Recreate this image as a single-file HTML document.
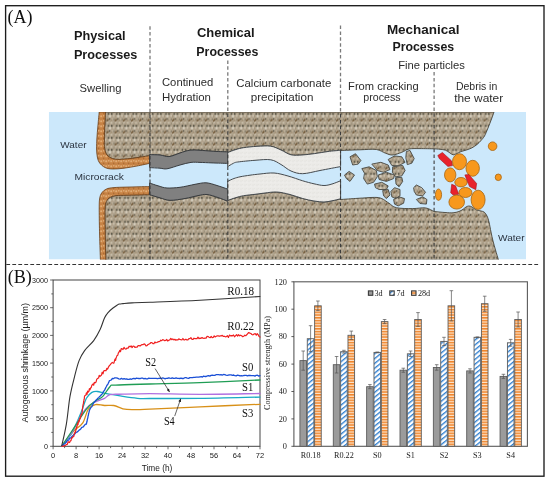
<!DOCTYPE html>
<html><head><meta charset="utf-8"><title>Figure</title>
<style>html,body{margin:0;padding:0;background:#fff}svg{display:block}</style>
</head><body>
<svg width="550" height="483" viewBox="0 0 550 483">
<defs>
<pattern id="conc" width="8.2" height="12.0" patternUnits="userSpaceOnUse" x="49" y="112.5">
<rect width="8.2" height="12.0" fill="#b0a28c"/>
<circle cx="3.6" cy="3.6" r="1.3" fill="#d6cfbf"/>
<circle cx="7.4" cy="3.2" r="1.0" fill="#cfc6b3"/>
<circle cx="0.9" cy="9.6" r="1.1" fill="#d2cab8"/>
<circle cx="5.0" cy="10.2" r="1.0" fill="#cbc2ae"/>
<circle cx="6.4" cy="6.6" r="0.9" fill="#c6bba6"/>
<circle cx="2.2" cy="1.3" r="0.9" fill="#393a2e"/>
<circle cx="5.3" cy="1.3" r="0.9" fill="#393a2e"/>
<circle cx="3.3" cy="6.4" r="0.75" fill="#49473a"/>
<circle cx="7.4" cy="6.9" r="0.6" fill="#55523f"/>
<circle cx="7.6" cy="11.0" r="0.5" fill="#6b6753"/>
<path d="M0.6 8.6 L1.7 7.0" stroke="#6e5636" stroke-width="1.5" stroke-linecap="round"/>
<path d="M4.6 8.4 L5.2 7.6" stroke="#8f7a58" stroke-width="0.9" stroke-linecap="round"/>
<circle cx="0.5" cy="4.0" r="0.6" fill="#94886f"/>
<circle cx="3.0" cy="11.2" r="0.55" fill="#8f846c"/>
<circle cx="6.9" cy="0.4" r="0.5" fill="#9a8f78"/>
</pattern>
<pattern id="swell" width="5" height="5" patternUnits="userSpaceOnUse">
<rect width="5" height="5" fill="#cb8748"/>
<circle cx="1.2" cy="1.3" r="1.0" fill="#e0ac76"/>
<circle cx="3.6" cy="3.4" r="0.9" fill="#ad6b33"/>
<circle cx="3.8" cy="0.8" r="0.7" fill="#e3b482"/>
<circle cx="1.0" cy="3.9" r="0.6" fill="#b9763d"/>
</pattern>
<pattern id="calc" width="4" height="4" patternUnits="userSpaceOnUse">
<rect width="4" height="4" fill="#ecebe8"/>
<circle cx="1" cy="1" r="0.45" fill="#d2d0ca"/>
<circle cx="3" cy="2.8" r="0.45" fill="#f8f8f6"/>
<circle cx="2.6" cy="0.6" r="0.35" fill="#dcdad4"/>
</pattern>
<pattern id="p7" width="3.75" height="3.75" patternUnits="userSpaceOnUse" patternTransform="rotate(-39)">
<rect width="3.75" height="3.75" fill="#fff"/>
<rect width="3.75" height="1.35" fill="#2f7fd0"/>
</pattern>
<pattern id="p28" width="7" height="2.75" patternUnits="userSpaceOnUse" y="446.3">
<rect width="7" height="2.75" fill="#fde9d4"/>
<rect y="0" width="7" height="1.55" fill="#f0842a"/>
</pattern>
<marker id="arr" viewBox="0 0 10 10" refX="9" refY="5" markerWidth="6" markerHeight="5" orient="auto"><path d="M0 1 L10 5 L0 9 z" fill="#222"/></marker>
<clipPath id="imgclip"><rect x="48.8" y="112" width="477.3" height="147.5"/></clipPath>
</defs>
<rect width="550" height="483" fill="#fff"/>
<rect x="5.6" y="5.7" width="538.4" height="470.5" fill="none" stroke="#1c1c1c" stroke-width="1.35"/>
<line x1="6.3" y1="264.5" x2="540" y2="264.5" stroke="#333" stroke-width="1.1" stroke-dasharray="3.8 2.2"/>
<text x="7.5" y="22.8" font-family='"Liberation Serif", serif' font-size="18" font-weight="normal" fill="#111" text-anchor="start" textLength="25" lengthAdjust="spacingAndGlyphs" >(A)</text>
<text x="7.7" y="283.3" font-family='"Liberation Serif", serif' font-size="18" font-weight="normal" fill="#111" text-anchor="start" textLength="24.2" lengthAdjust="spacingAndGlyphs" >(B)</text>
<text x="73.9" y="40.4" font-family='"Liberation Sans", sans-serif' font-size="13.3" font-weight="bold" fill="#1a1a1a" text-anchor="start" textLength="51.7" lengthAdjust="spacingAndGlyphs" >Physical</text>
<text x="73.9" y="59.2" font-family='"Liberation Sans", sans-serif' font-size="13.3" font-weight="bold" fill="#1a1a1a" text-anchor="start" textLength="63.5" lengthAdjust="spacingAndGlyphs" >Processes</text>
<text x="79.6" y="91.8" font-family='"Liberation Sans", sans-serif' font-size="10.8" font-weight="normal" fill="#2c2c2c" text-anchor="start" textLength="41.8" lengthAdjust="spacingAndGlyphs" >Swelling</text>
<text x="196.9" y="37" font-family='"Liberation Sans", sans-serif' font-size="13.3" font-weight="bold" fill="#1a1a1a" text-anchor="start" textLength="57.8" lengthAdjust="spacingAndGlyphs" >Chemical</text>
<text x="196.3" y="56" font-family='"Liberation Sans", sans-serif' font-size="13.3" font-weight="bold" fill="#1a1a1a" text-anchor="start" textLength="62.1" lengthAdjust="spacingAndGlyphs" >Processes</text>
<text x="162" y="85.9" font-family='"Liberation Sans", sans-serif' font-size="10.8" font-weight="normal" fill="#2c2c2c" text-anchor="start" textLength="51.3" lengthAdjust="spacingAndGlyphs" >Continued</text>
<text x="162" y="101.2" font-family='"Liberation Sans", sans-serif' font-size="10.8" font-weight="normal" fill="#2c2c2c" text-anchor="start" textLength="49" lengthAdjust="spacingAndGlyphs" >Hydration</text>
<text x="236.3" y="86.8" font-family='"Liberation Sans", sans-serif' font-size="10.8" font-weight="normal" fill="#2c2c2c" text-anchor="start" textLength="95" lengthAdjust="spacingAndGlyphs" >Calcium carbonate</text>
<text x="250.7" y="101" font-family='"Liberation Sans", sans-serif' font-size="10.8" font-weight="normal" fill="#2c2c2c" text-anchor="start" textLength="62.7" lengthAdjust="spacingAndGlyphs" >precipitation</text>
<text x="386.9" y="33.7" font-family='"Liberation Sans", sans-serif' font-size="13.3" font-weight="bold" fill="#1a1a1a" text-anchor="start" textLength="72.7" lengthAdjust="spacingAndGlyphs" >Mechanical</text>
<text x="392.4" y="51.4" font-family='"Liberation Sans", sans-serif' font-size="13.3" font-weight="bold" fill="#1a1a1a" text-anchor="start" textLength="61.8" lengthAdjust="spacingAndGlyphs" >Processes</text>
<text x="398.2" y="68.6" font-family='"Liberation Sans", sans-serif' font-size="10.5" font-weight="normal" fill="#2c2c2c" text-anchor="start" textLength="66.8" lengthAdjust="spacingAndGlyphs" >Fine particles</text>
<text x="348.1" y="90.3" font-family='"Liberation Sans", sans-serif' font-size="10.8" font-weight="normal" fill="#2c2c2c" text-anchor="start" textLength="70.5" lengthAdjust="spacingAndGlyphs" >From cracking</text>
<text x="363.3" y="101.4" font-family='"Liberation Sans", sans-serif' font-size="10.8" font-weight="normal" fill="#2c2c2c" text-anchor="start" textLength="37.3" lengthAdjust="spacingAndGlyphs" >process</text>
<text x="455.9" y="90.3" font-family='"Liberation Sans", sans-serif' font-size="10.8" font-weight="normal" fill="#2c2c2c" text-anchor="start" textLength="41.4" lengthAdjust="spacingAndGlyphs" >Debris in</text>
<text x="454.2" y="102" font-family='"Liberation Sans", sans-serif' font-size="10.8" font-weight="normal" fill="#2c2c2c" text-anchor="start" textLength="49" lengthAdjust="spacingAndGlyphs" >the water</text>
<g clip-path="url(#imgclip)">
<rect x="48.8" y="112" width="477.3" height="147.5" fill="#cce8fb"/>
<path d="M105.4 112.0 C105.3 114.2 105.0 120.3 104.8 125.0 C104.6 129.7 104.3 136.1 104.3 140.0 C104.3 143.9 104.1 146.0 104.6 148.5 C105.0 151.0 105.7 153.3 107.0 155.0 C108.3 156.7 110.5 157.9 112.5 158.6 C114.5 159.3 116.1 159.4 119.0 159.4 C121.9 159.4 126.5 159.0 130.0 158.6 C133.5 158.2 136.7 157.7 140.0 157.2 C143.3 156.7 148.0 156.0 149.6 155.8 L149.6 154.6 C151.3 154.7 156.8 154.7 160.0 155.0 C163.2 155.3 165.7 156.9 169.0 156.6 C172.3 156.3 176.5 154.1 180.0 153.0 C183.5 151.9 186.7 150.6 190.0 150.2 C193.3 149.8 196.3 150.1 200.0 150.3 C203.7 150.5 207.4 150.9 212.0 151.2 C216.6 151.5 225.1 151.8 227.7 151.9 L227.7 152.5 C229.1 152.0 233.3 150.3 236.0 149.5 C238.7 148.7 240.1 148.2 243.6 147.7 C247.1 147.2 252.5 146.6 257.0 146.3 C261.5 146.1 266.8 145.6 270.8 146.2 C274.8 146.8 277.6 148.6 281.0 150.0 C284.4 151.4 287.5 154.0 291.0 154.8 C294.5 155.6 298.1 155.2 302.0 155.0 C305.9 154.8 310.3 154.2 314.6 153.6 C318.9 153.0 323.7 152.1 328.0 151.5 C332.3 150.9 338.5 150.5 340.6 150.3 L340.6 150.5 C343.8 150.4 354.0 150.0 360.0 149.8 C366.0 149.6 372.1 148.9 376.4 149.5 C380.6 150.1 382.8 152.3 385.5 153.2 C388.2 154.1 390.0 155.2 392.7 155.0 C395.4 154.8 399.1 153.3 401.8 152.3 C404.5 151.3 406.0 149.6 409.0 149.0 C412.0 148.4 415.8 148.6 420.0 148.6 C424.2 148.6 431.7 148.8 434.0 148.8 L434.0 148.8 C435.0 148.9 438.1 149.1 440.0 149.3 C441.9 149.5 443.8 149.6 445.5 150.2 C447.2 150.8 448.7 152.2 450.0 153.0 C451.3 153.8 452.1 154.7 453.3 154.8 C454.5 154.9 455.7 154.0 457.0 153.5 C458.3 153.0 459.3 152.2 461.0 151.6 C462.7 151.0 465.2 150.4 467.0 149.8 C468.8 149.2 470.3 148.7 472.0 147.8 C473.7 146.9 475.5 145.7 477.0 144.5 C478.5 143.3 479.8 141.9 481.0 140.5 C482.2 139.1 483.3 138.1 484.5 136.0 C485.7 133.9 486.8 130.8 488.0 128.0 C489.2 125.2 490.5 121.7 491.5 119.0 C492.5 116.3 493.6 113.2 494.0 112.0 Z" fill="url(#conc)" stroke="#4a4438" stroke-width="0.9" stroke-linejoin="round"/>
<path d="M105.8 260.0 C105.7 255.8 105.3 242.3 105.2 235.0 C105.1 227.7 104.9 220.8 104.9 216.0 C104.9 211.2 104.9 208.6 105.2 206.0 C105.5 203.4 105.9 202.0 106.8 200.5 C107.7 199.0 109.0 197.8 110.5 197.0 C112.0 196.2 113.4 195.9 116.0 195.6 C118.6 195.3 122.3 195.3 126.0 195.2 C129.7 195.1 134.1 195.0 138.0 194.9 C141.9 194.8 147.7 194.7 149.6 194.7 L149.6 194.7 C151.3 195.2 156.6 196.9 160.0 197.8 C163.4 198.7 165.8 200.2 170.0 200.3 C174.2 200.4 180.3 199.3 185.0 198.5 C189.7 197.7 194.3 196.3 198.0 195.6 C201.7 194.9 203.7 194.2 207.0 194.5 C210.3 194.8 214.6 196.4 218.0 197.5 C221.4 198.6 226.1 200.6 227.7 201.2 L227.7 200.3 C229.1 199.9 233.3 198.4 236.0 197.6 C238.7 196.8 240.4 196.2 243.6 195.7 C246.8 195.1 251.4 194.8 255.0 194.3 C258.6 193.9 261.4 193.4 265.0 193.0 C268.6 192.6 272.5 191.8 276.7 192.0 C280.9 192.2 285.7 193.4 290.0 194.5 C294.3 195.6 298.7 197.4 302.7 198.5 C306.7 199.6 310.4 200.4 314.0 201.0 C317.6 201.6 321.0 202.0 324.0 202.0 C327.0 202.0 329.2 201.3 332.0 200.8 C334.8 200.3 339.2 199.1 340.6 198.8 L340.6 199.5 C343.5 199.3 352.4 198.7 358.0 198.3 C363.6 198.0 370.5 197.4 374.5 197.4 C378.5 197.4 379.4 197.6 381.8 198.6 C384.2 199.6 386.6 201.7 389.0 203.2 C391.4 204.7 392.4 206.8 396.4 207.7 C400.3 208.6 407.8 208.6 412.7 208.6 C417.6 208.6 421.9 207.4 425.5 207.9 C429.1 208.4 432.6 210.9 434.0 211.5 L434.0 211.5 C435.8 211.7 441.8 212.3 445.0 212.5 C448.2 212.7 450.7 213.0 453.0 212.8 C455.3 212.6 457.3 212.1 459.0 211.5 C460.7 210.9 462.2 209.8 463.4 209.0 C464.6 208.2 465.1 207.5 466.0 207.0 C466.9 206.5 467.8 206.0 468.8 206.0 C469.8 206.0 470.7 206.3 472.0 207.0 C473.3 207.7 475.1 209.2 476.6 209.9 C478.1 210.6 479.7 210.6 481.0 211.0 C482.3 211.4 483.3 211.4 484.3 212.2 C485.3 213.0 486.2 214.4 487.0 216.0 C487.8 217.6 488.3 219.3 489.0 222.0 C489.7 224.7 490.3 228.8 491.0 232.0 C491.7 235.2 492.2 238.0 493.0 241.0 C493.8 244.0 494.6 246.8 495.5 250.0 C496.4 253.2 498.0 258.3 498.5 260.0 Z" fill="url(#conc)" stroke="#4a4438" stroke-width="0.9" stroke-linejoin="round"/>
<path d="M99.2 112.0 C99.0 114.2 98.4 120.3 98.0 125.0 C97.6 129.7 97.0 135.3 96.8 140.0 C96.6 144.7 96.4 149.3 96.8 153.0 C97.2 156.7 97.6 159.6 99.0 162.0 C100.4 164.4 102.7 166.3 105.0 167.5 C107.3 168.7 109.8 168.9 113.0 169.0 C116.2 169.1 120.0 168.7 124.0 168.2 C128.0 167.7 132.7 166.8 137.0 166.0 C141.3 165.2 147.5 163.8 149.6 163.4 L149.6 155.8 C148.0 156.0 143.3 156.7 140.0 157.2 C136.7 157.7 133.5 158.2 130.0 158.6 C126.5 159.0 121.9 159.4 119.0 159.4 C116.1 159.4 114.5 159.3 112.5 158.6 C110.5 157.9 108.3 156.7 107.0 155.0 C105.7 153.3 105.0 151.0 104.6 148.5 C104.1 146.0 104.3 143.9 104.3 140.0 C104.3 136.1 104.6 129.7 104.8 125.0 C105.0 120.3 105.3 114.2 105.4 112.0 Z" fill="url(#swell)" stroke="#6b3d17" stroke-width="0.8" stroke-linejoin="round"/>
<path d="M149.6 186.6 C147.7 186.6 141.9 186.7 138.0 186.8 C134.1 186.9 130.0 187.0 126.0 187.1 C122.0 187.2 117.2 187.3 114.0 187.6 C110.8 187.9 108.5 188.1 106.5 189.0 C104.5 189.9 103.0 191.1 101.8 192.8 C100.6 194.5 100.0 196.1 99.6 199.0 C99.2 201.9 99.2 204.0 99.2 210.0 C99.2 216.0 99.4 226.7 99.6 235.0 C99.8 243.3 100.3 255.8 100.4 260.0 L105.8 260.0 C105.7 255.8 105.3 242.3 105.2 235.0 C105.1 227.7 104.9 220.8 104.9 216.0 C104.9 211.2 104.9 208.6 105.2 206.0 C105.5 203.4 105.9 202.0 106.8 200.5 C107.7 199.0 109.0 197.8 110.5 197.0 C112.0 196.2 113.4 195.9 116.0 195.6 C118.6 195.3 122.3 195.3 126.0 195.2 C129.7 195.1 134.1 195.0 138.0 194.9 C141.9 194.8 147.7 194.7 149.6 194.7 Z" fill="url(#swell)" stroke="#6b3d17" stroke-width="0.8" stroke-linejoin="round"/>
<path d="M149.6 154.6 C151.3 154.7 156.8 154.7 160.0 155.0 C163.2 155.3 165.7 156.9 169.0 156.6 C172.3 156.3 176.5 154.1 180.0 153.0 C183.5 151.9 186.7 150.6 190.0 150.2 C193.3 149.8 196.3 150.1 200.0 150.3 C203.7 150.5 207.4 150.9 212.0 151.2 C216.6 151.5 225.1 151.8 227.7 151.9 L227.7 163.4 C225.1 163.3 216.6 163.1 212.0 162.9 C207.4 162.7 203.5 162.5 200.0 162.4 C196.5 162.3 194.3 162.0 191.0 162.4 C187.7 162.8 184.0 163.9 180.0 165.0 C176.0 166.1 170.3 168.3 167.0 168.8 C163.7 169.3 162.9 168.4 160.0 168.2 C157.1 168.0 151.3 167.7 149.6 167.6 Z" fill="#808080" stroke="#3a3d40" stroke-width="1.0" stroke-linejoin="round"/>
<path d="M149.6 183.0 C151.0 183.5 155.1 185.0 158.0 185.8 C160.9 186.6 163.3 187.8 167.0 188.0 C170.7 188.2 175.3 187.9 180.0 187.3 C184.7 186.7 190.7 185.1 195.0 184.3 C199.3 183.6 202.3 182.6 206.0 182.8 C209.7 183.0 213.4 184.4 217.0 185.5 C220.6 186.6 225.9 188.5 227.7 189.1 L227.7 201.2 C226.1 200.6 221.4 198.6 218.0 197.5 C214.6 196.4 210.3 194.8 207.0 194.5 C203.7 194.2 201.7 194.9 198.0 195.6 C194.3 196.3 189.7 197.7 185.0 198.5 C180.3 199.3 174.2 200.4 170.0 200.3 C165.8 200.2 163.4 198.7 160.0 197.8 C156.6 196.9 151.3 195.2 149.6 194.7 Z" fill="#808080" stroke="#3a3d40" stroke-width="1.0" stroke-linejoin="round"/>
<path d="M227.7 152.5 C229.1 152.0 233.3 150.3 236.0 149.5 C238.7 148.7 240.1 148.2 243.6 147.7 C247.1 147.2 252.5 146.6 257.0 146.3 C261.5 146.1 266.8 145.6 270.8 146.2 C274.8 146.8 277.6 148.6 281.0 150.0 C284.4 151.4 287.5 154.0 291.0 154.8 C294.5 155.6 298.1 155.2 302.0 155.0 C305.9 154.8 310.3 154.2 314.6 153.6 C318.9 153.0 323.7 152.1 328.0 151.5 C332.3 150.9 338.5 150.5 340.6 150.3 L340.6 166.6 C337.2 167.2 326.3 169.3 320.0 170.5 C313.7 171.7 307.5 173.6 302.7 173.7 C297.9 173.8 294.6 172.5 291.0 171.0 C287.4 169.5 284.4 166.4 281.0 164.5 C277.6 162.6 275.1 160.5 270.8 159.8 C266.5 159.1 260.5 159.9 255.0 160.3 C249.5 160.7 241.4 161.5 237.7 162.0 C234.0 162.5 234.7 162.7 233.0 163.5 C231.3 164.3 228.6 166.1 227.7 166.6 Z" fill="url(#calc)" stroke="#454a4e" stroke-width="1.0" stroke-linejoin="round"/>
<path d="M227.7 181.2 C228.8 180.8 231.9 179.2 234.0 178.5 C236.1 177.8 237.3 177.4 240.0 176.8 C242.7 176.2 246.7 175.7 250.0 175.2 C253.3 174.7 256.0 174.4 260.0 174.0 C264.0 173.6 269.3 172.7 274.0 173.0 C278.7 173.3 283.2 174.7 288.0 176.0 C292.8 177.3 298.4 179.5 302.7 180.8 C307.0 182.1 310.4 183.0 314.0 183.8 C317.6 184.6 321.0 185.5 324.0 185.5 C327.0 185.5 329.2 184.8 332.0 184.0 C334.8 183.2 339.2 181.3 340.6 180.8 L340.6 198.8 C339.2 199.1 334.8 200.3 332.0 200.8 C329.2 201.3 327.0 202.0 324.0 202.0 C321.0 202.0 317.6 201.6 314.0 201.0 C310.4 200.4 306.7 199.6 302.7 198.5 C298.7 197.4 294.3 195.6 290.0 194.5 C285.7 193.4 280.9 192.2 276.7 192.0 C272.5 191.8 268.6 192.6 265.0 193.0 C261.4 193.4 258.6 193.9 255.0 194.3 C251.4 194.8 246.8 195.1 243.6 195.7 C240.4 196.2 238.7 196.8 236.0 197.6 C233.3 198.4 229.1 199.9 227.7 200.3 Z" fill="url(#calc)" stroke="#454a4e" stroke-width="1.0" stroke-linejoin="round"/>
<polygon points="350.0,156.8 355.5,153.7 360.9,160.5 358.2,164.1 352.7,165.0" fill="url(#conc)" stroke="#4a4a44" stroke-width="0.9" stroke-linejoin="round"/>
<polygon points="344.5,175.0 349.1,171.4 354.5,175.0 350.0,181.4 346.4,178.6" fill="url(#conc)" stroke="#4a4a44" stroke-width="0.9" stroke-linejoin="round"/>
<polygon points="361.8,168.6 369.1,166.8 376.4,170.5 377.3,176.8 373.6,182.3 367.3,184.1 363.6,178.6 364.5,173.2" fill="url(#conc)" stroke="#4a4a44" stroke-width="0.9" stroke-linejoin="round"/>
<polygon points="371.8,164.1 380.9,162.3 388.2,165.0 390.0,169.5 383.6,172.3 377.3,170.5" fill="url(#conc)" stroke="#4a4a44" stroke-width="0.9" stroke-linejoin="round"/>
<polygon points="388.2,159.5 394.5,155.9 401.8,156.8 405.1,162.3 398.2,165.9 391.8,165.4" fill="url(#conc)" stroke="#4a4a44" stroke-width="0.9" stroke-linejoin="round"/>
<polygon points="406.4,151.4 410.0,150.5 414.2,158.6 411.8,163.2 407.3,164.6 405.8,157.7" fill="url(#conc)" stroke="#4a4a44" stroke-width="0.9" stroke-linejoin="round"/>
<polygon points="392.7,166.8 402.7,165.4 405.1,170.5 401.8,175.9 395.5,176.8 392.4,172.3" fill="url(#conc)" stroke="#4a4a44" stroke-width="0.9" stroke-linejoin="round"/>
<polygon points="378.2,175.0 386.4,172.3 394.5,175.0 393.6,178.6 386.4,181.4 379.1,179.5" fill="url(#conc)" stroke="#4a4a44" stroke-width="0.9" stroke-linejoin="round"/>
<polygon points="374.5,184.1 381.8,182.3 388.2,185.9 386.4,189.5 379.1,189.5 375.5,187.7" fill="url(#conc)" stroke="#4a4a44" stroke-width="0.9" stroke-linejoin="round"/>
<polygon points="395.5,177.7 401.8,177.4 402.7,181.4 399.1,186.8 396.0,184.1" fill="url(#conc)" stroke="#4a4a44" stroke-width="0.9" stroke-linejoin="round"/>
<polygon points="382.7,190.5 388.2,189.5 390.0,195.0 386.4,198.6 383.6,195.9" fill="url(#conc)" stroke="#4a4a44" stroke-width="0.9" stroke-linejoin="round"/>
<polygon points="390.9,191.4 394.5,187.7 400.0,189.5 400.0,195.9 395.5,198.6 391.8,196.8" fill="url(#conc)" stroke="#4a4a44" stroke-width="0.9" stroke-linejoin="round"/>
<polygon points="393.6,199.5 399.1,196.8 404.5,198.6 403.6,203.2 398.2,205.9 394.5,204.1" fill="url(#conc)" stroke="#4a4a44" stroke-width="0.9" stroke-linejoin="round"/>
<polygon points="413.6,187.7 416.4,185.0 421.8,187.7 425.5,192.3 422.7,195.9 416.4,195.0 414.2,191.4" fill="url(#conc)" stroke="#4a4a44" stroke-width="0.9" stroke-linejoin="round"/>
<polygon points="416.4,199.5 422.7,196.8 426.9,199.5 426.4,204.1 420.0,203.5" fill="url(#conc)" stroke="#4a4a44" stroke-width="0.9" stroke-linejoin="round"/>
<polygon points="437.8,155.5 442.4,152.4 451.7,161 452.5,165.6 447.9,166.4 439.3,158.6" fill="#e8222c" stroke="#a0141b" stroke-width="0.6" stroke-linejoin="round"/>
<polygon points="451.7,184.3 455.6,185.8 458.7,194.3 453.3,195.1 450.7,192.8" fill="#e8222c" stroke="#a0141b" stroke-width="0.6" stroke-linejoin="round"/>
<ellipse cx="492.6" cy="146.2" rx="4.3" ry="4.3" fill="#f7981d" stroke="#a8650f" stroke-width="0.8"/>
<ellipse cx="498.3" cy="177.3" rx="3.1" ry="3.3" fill="#f7981d" stroke="#a8650f" stroke-width="0.8"/>
<ellipse cx="438.5" cy="194.7" rx="3.1" ry="5.7" fill="#f7981d" stroke="#a8650f" stroke-width="0.8"/>
<ellipse cx="450.2" cy="174.9" rx="5.7" ry="7" fill="#f7981d" stroke="#a8650f" stroke-width="0.8"/>
<ellipse cx="459.5" cy="161.7" rx="7" ry="8" fill="#f7981d" stroke="#a8650f" stroke-width="0.8"/>
<ellipse cx="472.7" cy="168.3" rx="6.7" ry="8" fill="#f7981d" stroke="#a8650f" stroke-width="0.8"/>
<ellipse cx="461" cy="182.2" rx="6.2" ry="4.7" fill="#f7981d" stroke="#a8650f" stroke-width="0.8"/>
<polygon points="464.9,174.9 468.8,174.5 476.6,183.5 475.8,189.7 469.6,186.6 467.3,181.1" fill="#e8222c" stroke="#a0141b" stroke-width="0.6" stroke-linejoin="round"/>
<ellipse cx="465.4" cy="192.5" rx="6.5" ry="5" fill="#f7981d" stroke="#a8650f" stroke-width="0.8"/>
<ellipse cx="456.7" cy="202.1" rx="7.8" ry="7" fill="#f7981d" stroke="#a8650f" stroke-width="0.8"/>
<ellipse cx="478.1" cy="199.8" rx="7" ry="9.6" fill="#f7981d" stroke="#a8650f" stroke-width="0.8"/>
</g>
<text x="60.3" y="147.6" font-family='"Liberation Sans", sans-serif' font-size="9.8" font-weight="normal" fill="#2b3440" text-anchor="start" textLength="26.2" lengthAdjust="spacingAndGlyphs" >Water</text>
<text x="74.5" y="179.6" font-family='"Liberation Sans", sans-serif' font-size="9.8" font-weight="normal" fill="#2b3440" text-anchor="start" textLength="49.5" lengthAdjust="spacingAndGlyphs" >Microcrack</text>
<text x="498" y="240.5" font-family='"Liberation Sans", sans-serif' font-size="9.8" font-weight="normal" fill="#2b3440" text-anchor="start" textLength="26.5" lengthAdjust="spacingAndGlyphs" >Water</text>
<line x1="150.0" y1="26.2" x2="150.0" y2="112" stroke="#7a7a7a" stroke-width="1.3" stroke-dasharray="3.5 2.4"/>
<line x1="150.0" y1="112" x2="150.0" y2="259.5" stroke="#3d3d3d" stroke-width="1.1" stroke-dasharray="3.5 2.4" stroke-dashoffset="3.20"/>
<line x1="227.8" y1="60.4" x2="227.8" y2="112" stroke="#7a7a7a" stroke-width="1.3" stroke-dasharray="3.5 2.4"/>
<line x1="227.8" y1="112" x2="227.8" y2="259.5" stroke="#3d3d3d" stroke-width="1.1" stroke-dasharray="3.5 2.4" stroke-dashoffset="4.40"/>
<line x1="340.5" y1="25.5" x2="340.5" y2="112" stroke="#7a7a7a" stroke-width="1.3" stroke-dasharray="3.5 2.4"/>
<line x1="340.5" y1="112" x2="340.5" y2="259.5" stroke="#3d3d3d" stroke-width="1.1" stroke-dasharray="3.5 2.4" stroke-dashoffset="3.90"/>
<line x1="434.1" y1="72" x2="434.1" y2="112" stroke="#7a7a7a" stroke-width="1.3" stroke-dasharray="3.5 2.4"/>
<line x1="434.1" y1="112" x2="434.1" y2="259.5" stroke="#3d3d3d" stroke-width="1.1" stroke-dasharray="3.5 2.4" stroke-dashoffset="4.60"/>
<rect x="53.1" y="280" width="206.9" height="166.3" fill="#fff" stroke="#444" stroke-width="1"/>
<line x1="50.1" y1="446.3" x2="53.1" y2="446.3" stroke="#444" stroke-width="0.8"/>
<text x="48.0" y="448.9" font-family='"Liberation Sans", sans-serif' font-size="7.2" font-weight="normal" fill="#222" text-anchor="end" >0</text>
<line x1="51.300000000000004" y1="432.4" x2="53.1" y2="432.4" stroke="#444" stroke-width="0.8"/>
<line x1="50.1" y1="418.6" x2="53.1" y2="418.6" stroke="#444" stroke-width="0.8"/>
<text x="48.0" y="421.2" font-family='"Liberation Sans", sans-serif' font-size="7.2" font-weight="normal" fill="#222" text-anchor="end" >500</text>
<line x1="51.300000000000004" y1="404.7" x2="53.1" y2="404.7" stroke="#444" stroke-width="0.8"/>
<line x1="50.1" y1="390.9" x2="53.1" y2="390.9" stroke="#444" stroke-width="0.8"/>
<text x="48.0" y="393.5" font-family='"Liberation Sans", sans-serif' font-size="7.2" font-weight="normal" fill="#222" text-anchor="end" >1000</text>
<line x1="51.300000000000004" y1="377.0" x2="53.1" y2="377.0" stroke="#444" stroke-width="0.8"/>
<line x1="50.1" y1="363.1" x2="53.1" y2="363.1" stroke="#444" stroke-width="0.8"/>
<text x="48.0" y="365.8" font-family='"Liberation Sans", sans-serif' font-size="7.2" font-weight="normal" fill="#222" text-anchor="end" >1500</text>
<line x1="51.300000000000004" y1="349.3" x2="53.1" y2="349.3" stroke="#444" stroke-width="0.8"/>
<line x1="50.1" y1="335.4" x2="53.1" y2="335.4" stroke="#444" stroke-width="0.8"/>
<text x="48.0" y="338.0" font-family='"Liberation Sans", sans-serif' font-size="7.2" font-weight="normal" fill="#222" text-anchor="end" >2000</text>
<line x1="51.300000000000004" y1="321.6" x2="53.1" y2="321.6" stroke="#444" stroke-width="0.8"/>
<line x1="50.1" y1="307.7" x2="53.1" y2="307.7" stroke="#444" stroke-width="0.8"/>
<text x="48.0" y="310.3" font-family='"Liberation Sans", sans-serif' font-size="7.2" font-weight="normal" fill="#222" text-anchor="end" >2500</text>
<line x1="51.300000000000004" y1="293.9" x2="53.1" y2="293.9" stroke="#444" stroke-width="0.8"/>
<line x1="50.1" y1="280.0" x2="53.1" y2="280.0" stroke="#444" stroke-width="0.8"/>
<text x="48.0" y="282.6" font-family='"Liberation Sans", sans-serif' font-size="7.2" font-weight="normal" fill="#222" text-anchor="end" >3000</text>
<line x1="53.1" y1="446.3" x2="53.1" y2="449.3" stroke="#444" stroke-width="0.8"/>
<text x="53.1" y="457.9" font-family='"Liberation Sans", sans-serif' font-size="7.5" font-weight="normal" fill="#222" text-anchor="middle" >0</text>
<line x1="64.6" y1="446.3" x2="64.6" y2="448.1" stroke="#444" stroke-width="0.8"/>
<line x1="76.1" y1="446.3" x2="76.1" y2="449.3" stroke="#444" stroke-width="0.8"/>
<text x="76.1" y="457.9" font-family='"Liberation Sans", sans-serif' font-size="7.5" font-weight="normal" fill="#222" text-anchor="middle" >8</text>
<line x1="87.6" y1="446.3" x2="87.6" y2="448.1" stroke="#444" stroke-width="0.8"/>
<line x1="99.1" y1="446.3" x2="99.1" y2="449.3" stroke="#444" stroke-width="0.8"/>
<text x="99.1" y="457.9" font-family='"Liberation Sans", sans-serif' font-size="7.5" font-weight="normal" fill="#222" text-anchor="middle" >16</text>
<line x1="110.6" y1="446.3" x2="110.6" y2="448.1" stroke="#444" stroke-width="0.8"/>
<line x1="122.1" y1="446.3" x2="122.1" y2="449.3" stroke="#444" stroke-width="0.8"/>
<text x="122.1" y="457.9" font-family='"Liberation Sans", sans-serif' font-size="7.5" font-weight="normal" fill="#222" text-anchor="middle" >24</text>
<line x1="133.6" y1="446.3" x2="133.6" y2="448.1" stroke="#444" stroke-width="0.8"/>
<line x1="145.1" y1="446.3" x2="145.1" y2="449.3" stroke="#444" stroke-width="0.8"/>
<text x="145.1" y="457.9" font-family='"Liberation Sans", sans-serif' font-size="7.5" font-weight="normal" fill="#222" text-anchor="middle" >32</text>
<line x1="156.6" y1="446.3" x2="156.6" y2="448.1" stroke="#444" stroke-width="0.8"/>
<line x1="168.0" y1="446.3" x2="168.0" y2="449.3" stroke="#444" stroke-width="0.8"/>
<text x="168.0" y="457.9" font-family='"Liberation Sans", sans-serif' font-size="7.5" font-weight="normal" fill="#222" text-anchor="middle" >40</text>
<line x1="179.5" y1="446.3" x2="179.5" y2="448.1" stroke="#444" stroke-width="0.8"/>
<line x1="191.0" y1="446.3" x2="191.0" y2="449.3" stroke="#444" stroke-width="0.8"/>
<text x="191.0" y="457.9" font-family='"Liberation Sans", sans-serif' font-size="7.5" font-weight="normal" fill="#222" text-anchor="middle" >48</text>
<line x1="202.5" y1="446.3" x2="202.5" y2="448.1" stroke="#444" stroke-width="0.8"/>
<line x1="214.0" y1="446.3" x2="214.0" y2="449.3" stroke="#444" stroke-width="0.8"/>
<text x="214.0" y="457.9" font-family='"Liberation Sans", sans-serif' font-size="7.5" font-weight="normal" fill="#222" text-anchor="middle" >56</text>
<line x1="225.5" y1="446.3" x2="225.5" y2="448.1" stroke="#444" stroke-width="0.8"/>
<line x1="237.0" y1="446.3" x2="237.0" y2="449.3" stroke="#444" stroke-width="0.8"/>
<text x="237.0" y="457.9" font-family='"Liberation Sans", sans-serif' font-size="7.5" font-weight="normal" fill="#222" text-anchor="middle" >64</text>
<line x1="248.5" y1="446.3" x2="248.5" y2="448.1" stroke="#444" stroke-width="0.8"/>
<line x1="260.0" y1="446.3" x2="260.0" y2="449.3" stroke="#444" stroke-width="0.8"/>
<text x="260.0" y="457.9" font-family='"Liberation Sans", sans-serif' font-size="7.5" font-weight="normal" fill="#222" text-anchor="middle" >72</text>
<text x="157" y="471" font-family='"Liberation Sans", sans-serif' font-size="8.3" font-weight="normal" fill="#222" text-anchor="middle" >Time (h)</text>
<text transform="translate(28.1,362.8) rotate(-90)" font-family='"Liberation Sans", sans-serif' font-size="8.9" fill="#222" text-anchor="middle" textLength="119.5" lengthAdjust="spacingAndGlyphs">Autogenous shrinkage (µm/m)</text>
<path d="M62.0 446.0 C62.8 444.8 65.0 441.5 67.0 439.0 C69.0 436.5 71.1 433.7 73.7 431.0 C76.3 428.3 80.4 426.4 82.8 422.8 C85.2 419.2 86.2 412.2 88.3 409.2 C90.4 406.2 92.8 405.2 95.5 404.6 C98.2 404.0 101.5 405.4 104.6 405.5 C107.6 405.6 110.8 404.9 113.8 405.5 C116.8 406.1 119.9 408.1 122.9 408.8 C125.9 409.5 127.5 409.6 132.0 409.7 C136.5 409.8 138.7 409.7 150.0 409.2 C161.3 408.7 181.7 407.6 200.0 406.8 C218.3 406.0 250.0 404.7 260.0 404.3" fill="none" stroke="#d89018" stroke-width="1.3" stroke-linejoin="round" stroke-linecap="round"/>
<path d="M62.0 446.0 C63.6 443.8 68.7 438.4 71.9 432.9 C75.1 427.4 78.6 418.6 81.0 412.8 C83.4 407.0 84.6 401.7 86.4 398.3 C88.2 394.9 90.1 393.5 91.9 392.4 C93.7 391.3 95.0 391.3 97.4 391.5 C99.8 391.7 102.2 392.9 106.5 393.7 C110.8 394.5 117.8 395.6 122.9 396.4 C128.1 397.2 132.9 397.9 137.4 398.3 C141.9 398.7 139.6 398.5 150.0 398.5 C160.4 398.5 181.7 398.6 200.0 398.4 C218.3 398.2 250.0 397.3 260.0 397.1" fill="none" stroke="#18a9c4" stroke-width="1.3" stroke-linejoin="round" stroke-linecap="round"/>
<path d="M62.0 446.0 C63.7 443.7 68.5 437.5 72.0 432.0 C75.5 426.5 79.9 417.2 82.8 412.8 C85.7 408.4 87.1 407.3 89.2 405.5 C91.3 403.7 92.9 403.1 95.5 401.9 C98.1 400.7 102.2 399.5 104.6 398.3 C107.0 397.1 107.0 395.3 110.1 394.6 C113.1 393.9 116.2 394.4 122.9 394.2 C129.6 394.0 137.2 393.7 150.0 393.7 C162.8 393.7 181.7 394.3 200.0 394.3 C218.3 394.3 250.0 393.6 260.0 393.5" fill="none" stroke="#b070e0" stroke-width="1.3" stroke-linejoin="round" stroke-linecap="round"/>
<path d="M62.0 446.0 C63.6 443.5 67.8 437.1 71.9 431.0 C76.0 424.9 82.5 414.2 86.4 409.2 C90.3 404.2 92.8 403.1 95.5 401.0 C98.2 398.9 100.4 398.8 102.8 396.4 C105.2 394.0 108.0 388.3 110.1 386.4 C112.2 384.5 108.9 385.5 115.6 385.1 C122.2 384.7 135.9 384.4 150.0 384.0 C164.1 383.6 181.7 383.3 200.0 382.6 C218.3 381.9 250.0 380.4 260.0 380.0" fill="none" stroke="#1f9d55" stroke-width="1.3" stroke-linejoin="round" stroke-linecap="round"/>
<polyline points="62.0,445.7 63.0,445.2 64.0,444.1 65.0,443.5 66.0,442.6 66.9,441.2 67.7,440.3 68.6,440.2 69.4,438.8 70.3,437.9 71.1,437.8 72.0,436.4 72.8,435.9 73.7,434.7 74.8,433.9 75.9,432.5 76.9,432.1 78.0,431.4 79.1,430.1 80.0,429.6 80.9,428.7 81.8,427.3 82.8,427.2 83.7,426.3 84.6,425.2 85.5,424.1 86.4,424.2 86.7,422.5 87.0,421.5 87.2,420.3 87.5,418.9 87.8,417.8 88.1,416.0 88.4,415.1 88.6,413.5 88.9,412.7 89.2,411.4 89.8,409.4 90.5,408.3 91.1,407.2 91.8,406.8 92.4,405.1 93.1,404.1 93.7,402.6 94.5,401.9 95.4,400.9 96.2,399.9 97.0,399.2 97.8,398.3 98.7,397.7 99.5,396.6 100.3,396.0 101.1,395.0 102.0,394.2 102.8,393.0 103.4,391.4 104.0,391.0 104.6,390.1 105.2,388.9 105.8,387.5 106.4,386.6 107.1,385.0 107.7,384.6 108.3,383.3 108.9,381.9 109.5,380.6 110.1,380.4 111.2,380.0 112.4,378.5 113.5,378.7 114.7,377.8 116.1,377.8 117.4,378.1 118.8,378.8 120.2,379.1 121.5,378.4 122.9,379.2 124.1,378.6 125.4,379.2 126.6,378.8 127.8,379.3 129.1,379.4 130.3,378.9 131.5,379.3 132.8,378.6 134.0,378.3 135.2,378.8 136.4,378.2 137.7,378.4 138.9,378.5 140.1,378.7 141.4,378.2 142.6,378.1 143.8,378.8 145.1,378.3 146.3,378.9 147.5,378.8 148.8,378.2 150.0,378.3 151.2,378.3 152.5,378.4 153.7,378.4 155.0,378.4 156.2,378.4 157.4,378.7 158.7,378.3 159.9,378.2 161.2,378.5 162.4,378.0 163.6,378.1 164.9,378.8 166.1,378.3 167.4,378.3 168.6,377.8 169.9,378.2 171.1,378.4 172.3,377.8 173.6,378.4 174.8,378.4 176.1,377.9 177.3,378.4 178.5,378.3 179.8,378.5 181.0,378.2 182.3,378.5 183.5,378.5 184.8,377.7 186.0,377.7 187.3,378.2 188.6,378.4 189.8,377.6 191.1,377.7 192.4,377.7 193.7,377.3 194.9,377.3 196.2,377.1 197.5,377.1 198.7,377.2 200.0,376.8 201.2,376.7 202.5,377.0 203.7,376.1 204.9,376.5 206.2,376.5 207.4,375.9 208.6,375.7 209.8,376.1 211.1,375.4 212.3,375.2 213.5,375.3 214.8,375.4 216.0,374.7 217.2,374.7 218.5,374.6 219.7,374.9 221.0,374.6 222.2,375.1 223.5,374.5 224.8,374.7 226.0,375.1 227.3,375.4 228.6,375.0 229.8,374.8 231.1,374.8 232.4,375.3 233.7,375.0 234.9,375.7 236.2,375.8 237.5,375.2 238.7,375.3 240.0,375.9 241.2,375.7 242.5,375.9 243.8,375.5 245.0,375.3 246.2,375.4 247.5,375.9 248.8,375.4 250.0,375.5 251.2,375.6 252.5,375.6 253.8,375.6 255.0,376.1 256.2,375.3 257.5,375.2 258.8,376.1 260.0,375.7" fill="none" stroke="#1a4fd6" stroke-width="1.3" stroke-linejoin="round" stroke-linecap="round"/>
<polyline points="62.0,446.3 63.0,446.1 64.1,445.7 65.1,445.6 66.1,444.6 67.2,444.5 68.2,441.7 68.9,442.0 69.6,442.5 70.3,440.9 71.0,440.7 71.6,437.9 72.3,438.0 73.0,436.6 73.7,436.6 74.0,435.7 74.4,433.3 74.7,432.8 75.0,432.0 75.3,432.6 75.7,431.2 76.0,428.7 76.3,429.3 76.6,426.6 77.0,426.9 77.3,424.6 77.7,423.3 78.0,424.6 78.4,421.9 78.7,420.9 79.1,421.9 79.4,420.7 79.8,418.2 80.1,418.9 80.5,416.8 80.8,416.2 81.2,414.0 81.5,414.9 81.9,413.3 82.1,413.0 82.2,411.8 82.4,409.2 82.6,408.3 82.7,406.8 82.9,405.7 83.1,404.5 83.2,404.1 83.4,403.8 83.6,401.3 83.8,402.0 83.9,400.1 84.1,399.0 84.3,399.3 84.4,397.4 84.6,395.9 85.2,395.5 85.8,395.3 86.4,392.8 87.0,394.4 87.6,391.1 88.2,392.2 88.8,391.6 89.4,388.7 90.0,389.8 90.6,387.9 91.2,387.6 91.8,385.3 92.5,384.5 93.1,384.0 93.7,385.2 94.3,382.4 94.9,383.0 95.5,382.6 96.1,381.8 96.7,379.4 97.4,378.6 98.0,378.2 98.6,378.0 99.2,375.4 100.0,376.3 100.7,375.7 101.5,375.1 102.2,372.2 103.0,373.8 103.8,370.8 104.5,370.7 105.3,370.6 106.0,370.7 106.8,368.4 107.5,369.2 108.3,367.4 109.1,366.0 109.9,365.2 110.7,364.1 111.5,363.1 112.3,362.4 113.1,363.1 113.9,363.1 114.7,360.1 115.2,358.9 115.6,360.3 116.0,358.2 116.5,356.9 117.0,355.5 117.4,355.5 117.8,355.1 118.3,353.2 119.0,352.2 119.8,350.3 120.5,351.7 121.3,348.5 122.0,348.8 123.0,349.5 124.0,347.4 125.0,348.7 126.0,349.1 127.1,348.0 128.1,348.2 129.1,346.2 130.1,346.8 131.1,345.9 132.1,347.6 133.1,346.0 134.1,346.3 135.1,347.5 136.1,347.0 137.1,347.2 138.1,345.6 139.1,345.6 140.1,346.0 141.0,345.2 142.0,344.6 143.0,344.7 144.0,343.9 145.0,344.4 146.0,345.8 147.0,345.6 148.0,344.5 149.0,344.1 150.0,343.5 151.0,342.5 151.9,342.7 152.9,343.7 153.9,343.6 154.9,342.0 155.8,342.8 156.8,342.5 157.8,341.9 158.8,341.6 159.8,341.5 160.7,340.2 161.7,340.7 162.7,339.6 163.7,340.0 164.7,340.7 165.7,340.5 166.7,339.4 167.7,341.0 168.8,340.2 169.8,339.9 170.8,338.4 171.8,339.7 172.8,338.9 173.8,339.9 174.8,339.3 175.8,340.2 176.8,339.7 177.8,340.0 178.8,338.8 179.8,339.5 180.8,339.7 181.9,339.8 182.9,338.5 183.9,339.8 184.9,339.8 185.9,339.2 186.9,339.9 187.9,339.8 188.9,338.6 189.9,338.6 190.9,337.6 191.9,339.3 192.9,339.5 194.0,338.2 195.0,338.7 196.0,338.7 197.0,338.7 198.0,337.2 199.0,338.7 200.0,338.1 201.0,338.3 202.0,337.6 203.0,338.1 204.1,338.4 205.1,338.0 206.1,338.1 207.1,336.3 208.1,336.6 209.1,337.2 210.2,337.7 211.2,336.5 212.2,337.7 213.2,337.5 214.2,335.9 215.2,337.0 216.3,336.3 217.3,335.8 218.3,335.9 219.3,336.3 220.3,335.9 221.3,335.9 222.3,335.4 223.4,336.5 224.4,336.2 225.4,336.8 226.4,336.7 227.4,335.7 228.4,337.4 229.5,335.0 230.5,335.9 231.5,335.6 232.5,335.8 233.5,335.0 234.5,336.8 235.6,335.6 236.6,334.6 237.6,336.1 238.6,334.7 239.6,335.8 240.6,335.2 241.7,335.8 242.7,336.7 243.7,336.3 244.7,335.2 245.7,335.7 246.7,334.8 247.7,333.6 248.7,332.5 249.7,333.1 250.8,333.3 251.9,334.5 253.0,334.8 254.1,334.0 255.2,333.6 256.3,335.2 257.2,333.6 258.1,334.6 259.1,336.5 260.0,337.0" fill="none" stroke="#f02020" stroke-width="1.2" stroke-linejoin="round" stroke-linecap="round"/>
<path d="M61.8 445.6 C62.6 442.0 65.0 432.0 66.4 423.8 C67.8 415.6 68.6 404.3 70.0 396.4 C71.4 388.5 73.1 382.4 74.6 376.4 C76.1 370.4 77.4 364.9 79.1 360.6 C80.8 356.3 82.2 353.9 84.6 350.6 C87.0 347.3 91.1 344.1 93.7 340.6 C96.3 337.1 98.3 333.4 100.1 329.6 C101.9 325.8 103.2 320.7 104.6 317.8 C106.0 314.9 106.9 313.9 108.3 312.3 C109.7 310.7 111.5 309.2 113.0 308.0 C114.5 306.8 116.4 305.6 117.5 304.9 C118.6 304.2 118.7 304.2 119.6 304.0 C120.5 303.8 120.9 303.8 123.0 303.6 C125.1 303.4 127.5 303.1 132.0 302.9 C136.5 302.7 138.7 302.7 150.0 302.3 C161.3 301.9 181.7 301.3 200.0 300.3 C218.3 299.3 250.0 297.1 260.0 296.5" fill="none" stroke="#333" stroke-width="1.1" stroke-linejoin="round" stroke-linecap="round"/>
<text x="227.3" y="295.2" font-family='"Liberation Serif", serif' font-size="12" font-weight="normal" fill="#111" text-anchor="start" textLength="26.8" lengthAdjust="spacingAndGlyphs" >R0.18</text>
<text x="227.3" y="330.4" font-family='"Liberation Serif", serif' font-size="12" font-weight="normal" fill="#111" text-anchor="start" textLength="26.8" lengthAdjust="spacingAndGlyphs" >R0.22</text>
<text x="242.1" y="371.4" font-family='"Liberation Serif", serif' font-size="12" font-weight="normal" fill="#111" text-anchor="start" textLength="11.3" lengthAdjust="spacingAndGlyphs" >S0</text>
<text x="242.1" y="391" font-family='"Liberation Serif", serif' font-size="12" font-weight="normal" fill="#111" text-anchor="start" textLength="11.3" lengthAdjust="spacingAndGlyphs" >S1</text>
<text x="242.1" y="416.5" font-family='"Liberation Serif", serif' font-size="12" font-weight="normal" fill="#111" text-anchor="start" textLength="11.3" lengthAdjust="spacingAndGlyphs" >S3</text>
<text x="145.3" y="366.4" font-family='"Liberation Serif", serif' font-size="12" font-weight="normal" fill="#111" text-anchor="start" textLength="10.8" lengthAdjust="spacingAndGlyphs" >S2</text>
<text x="163.9" y="424.5" font-family='"Liberation Serif", serif' font-size="12" font-weight="normal" fill="#111" text-anchor="start" textLength="10.8" lengthAdjust="spacingAndGlyphs" >S4</text>
<line x1="155.1" y1="368.6" x2="169.5" y2="391.9" stroke="#222" stroke-width="0.7" marker-end="url(#arr)"/>
<line x1="174.7" y1="416.1" x2="180.7" y2="398.8" stroke="#222" stroke-width="0.7" marker-end="url(#arr)"/>
<rect x="293.9" y="281.8" width="233.5" height="164.5" fill="#fff" stroke="#5a5a5a" stroke-width="1.1"/>
<line x1="291.4" y1="446.3" x2="293.9" y2="446.3" stroke="#333" stroke-width="0.8"/>
<text x="287" y="449.1" font-family='"Liberation Serif", serif' font-size="8.3" font-weight="normal" fill="#222" text-anchor="end" >0</text>
<line x1="291.4" y1="418.9" x2="293.9" y2="418.9" stroke="#333" stroke-width="0.8"/>
<text x="287" y="421.7" font-family='"Liberation Serif", serif' font-size="8.3" font-weight="normal" fill="#222" text-anchor="end" >20</text>
<line x1="291.4" y1="391.5" x2="293.9" y2="391.5" stroke="#333" stroke-width="0.8"/>
<text x="287" y="394.3" font-family='"Liberation Serif", serif' font-size="8.3" font-weight="normal" fill="#222" text-anchor="end" >40</text>
<line x1="291.4" y1="364.1" x2="293.9" y2="364.1" stroke="#333" stroke-width="0.8"/>
<text x="287" y="366.9" font-family='"Liberation Serif", serif' font-size="8.3" font-weight="normal" fill="#222" text-anchor="end" >60</text>
<line x1="291.4" y1="336.6" x2="293.9" y2="336.6" stroke="#333" stroke-width="0.8"/>
<text x="287" y="339.4" font-family='"Liberation Serif", serif' font-size="8.3" font-weight="normal" fill="#222" text-anchor="end" >80</text>
<line x1="291.4" y1="309.2" x2="293.9" y2="309.2" stroke="#333" stroke-width="0.8"/>
<text x="287" y="312.0" font-family='"Liberation Serif", serif' font-size="8.3" font-weight="normal" fill="#222" text-anchor="end" >100</text>
<line x1="291.4" y1="281.8" x2="293.9" y2="281.8" stroke="#333" stroke-width="0.8"/>
<text x="287" y="284.6" font-family='"Liberation Serif", serif' font-size="8.3" font-weight="normal" fill="#222" text-anchor="end" >120</text>
<text transform="translate(270.3,363) rotate(-90)" font-family='"Liberation Serif", serif' font-size="8.3" fill="#222" text-anchor="middle" textLength="94" lengthAdjust="spacingAndGlyphs">Compressive strength (MPa)</text>
<rect x="299.93" y="360.6" width="6.6" height="85.7" fill="#9b9b9b" stroke="#5c5c5c" stroke-width="0.9"/>
<path d="M303.2 370.2 V351.0 M301.4 351.0 H305.0 M301.4 370.2 H305.0" stroke="#555" stroke-width="0.7" fill="none"/>
<rect x="307.28" y="338.7" width="6.6" height="107.6" fill="url(#p7)" stroke="#5c5c5c" stroke-width="0.9"/>
<path d="M310.6 351.7 V325.7 M308.8 325.7 H312.4 M308.8 351.7 H312.4" stroke="#555" stroke-width="0.7" fill="none"/>
<rect x="314.63" y="305.8" width="6.6" height="140.5" fill="url(#p28)" stroke="#5c5c5c" stroke-width="0.9"/>
<path d="M317.9 310.6 V301.0 M316.1 301.0 H319.7 M316.1 310.6 H319.7" stroke="#555" stroke-width="0.7" fill="none"/>
<text x="310.6" y="458.4" font-family='"Liberation Serif", serif' font-size="8.2" font-weight="normal" fill="#222" text-anchor="middle" >R0.18</text>
<rect x="333.29" y="364.7" width="6.6" height="81.6" fill="#9b9b9b" stroke="#5c5c5c" stroke-width="0.9"/>
<path d="M336.6 373.0 V356.5 M334.8 356.5 H338.4 M334.8 373.0 H338.4" stroke="#555" stroke-width="0.7" fill="none"/>
<rect x="340.64" y="351.7" width="6.6" height="94.6" fill="url(#p7)" stroke="#5c5c5c" stroke-width="0.9"/>
<path d="M343.9 353.1 V350.3 M342.1 350.3 H345.7 M342.1 353.1 H345.7" stroke="#555" stroke-width="0.7" fill="none"/>
<rect x="347.99" y="335.3" width="6.6" height="111.0" fill="url(#p28)" stroke="#5c5c5c" stroke-width="0.9"/>
<path d="M351.3 339.4 V331.1 M349.5 331.1 H353.1 M349.5 339.4 H353.1" stroke="#555" stroke-width="0.7" fill="none"/>
<text x="343.9" y="458.4" font-family='"Liberation Serif", serif' font-size="8.2" font-weight="normal" fill="#222" text-anchor="middle" >R0.22</text>
<rect x="366.64" y="386.7" width="6.6" height="59.6" fill="#9b9b9b" stroke="#5c5c5c" stroke-width="0.9"/>
<path d="M369.9 388.7 V384.6 M368.1 384.6 H371.7 M368.1 388.7 H371.7" stroke="#555" stroke-width="0.7" fill="none"/>
<rect x="373.99" y="352.4" width="6.6" height="93.9" fill="url(#p7)" stroke="#5c5c5c" stroke-width="0.9"/>
<path d="M377.3 352.8 V352.0 M375.5 352.0 H379.1 M375.5 352.8 H379.1" stroke="#555" stroke-width="0.7" fill="none"/>
<rect x="381.34" y="321.6" width="6.6" height="124.7" fill="url(#p28)" stroke="#5c5c5c" stroke-width="0.9"/>
<path d="M384.6 323.6 V319.5 M382.8 319.5 H386.4 M382.8 323.6 H386.4" stroke="#555" stroke-width="0.7" fill="none"/>
<text x="377.3" y="458.4" font-family='"Liberation Serif", serif' font-size="8.2" font-weight="normal" fill="#222" text-anchor="middle" >S0</text>
<rect x="400.00" y="370.2" width="6.6" height="76.1" fill="#9b9b9b" stroke="#5c5c5c" stroke-width="0.9"/>
<path d="M403.3 372.3 V368.2 M401.5 368.2 H405.1 M401.5 372.3 H405.1" stroke="#555" stroke-width="0.7" fill="none"/>
<rect x="407.35" y="353.8" width="6.6" height="92.5" fill="url(#p7)" stroke="#5c5c5c" stroke-width="0.9"/>
<path d="M410.6 356.5 V351.0 M408.8 351.0 H412.4 M408.8 356.5 H412.4" stroke="#555" stroke-width="0.7" fill="none"/>
<rect x="414.70" y="319.5" width="6.6" height="126.8" fill="url(#p28)" stroke="#5c5c5c" stroke-width="0.9"/>
<path d="M418.0 326.4 V312.6 M416.2 312.6 H419.8 M416.2 326.4 H419.8" stroke="#555" stroke-width="0.7" fill="none"/>
<text x="410.6" y="458.4" font-family='"Liberation Serif", serif' font-size="8.2" font-weight="normal" fill="#222" text-anchor="middle" >S1</text>
<rect x="433.36" y="367.5" width="6.6" height="78.8" fill="#9b9b9b" stroke="#5c5c5c" stroke-width="0.9"/>
<path d="M436.7 370.2 V364.7 M434.9 364.7 H438.5 M434.9 370.2 H438.5" stroke="#555" stroke-width="0.7" fill="none"/>
<rect x="440.71" y="341.4" width="6.6" height="104.9" fill="url(#p7)" stroke="#5c5c5c" stroke-width="0.9"/>
<path d="M444.0 345.5 V337.3 M442.2 337.3 H445.8 M442.2 345.5 H445.8" stroke="#555" stroke-width="0.7" fill="none"/>
<rect x="448.06" y="305.8" width="6.6" height="140.5" fill="url(#p28)" stroke="#5c5c5c" stroke-width="0.9"/>
<path d="M451.4 320.9 V290.7 M449.6 290.7 H453.2 M449.6 320.9 H453.2" stroke="#555" stroke-width="0.7" fill="none"/>
<text x="444.0" y="458.4" font-family='"Liberation Serif", serif' font-size="8.2" font-weight="normal" fill="#222" text-anchor="middle" >S2</text>
<rect x="466.71" y="370.9" width="6.6" height="75.4" fill="#9b9b9b" stroke="#5c5c5c" stroke-width="0.9"/>
<path d="M470.0 373.0 V368.8 M468.2 368.8 H471.8 M468.2 373.0 H471.8" stroke="#555" stroke-width="0.7" fill="none"/>
<rect x="474.06" y="337.3" width="6.6" height="109.0" fill="url(#p7)" stroke="#5c5c5c" stroke-width="0.9"/>
<path d="M477.4 337.7 V336.9 M475.6 336.9 H479.2 M475.6 337.7 H479.2" stroke="#555" stroke-width="0.7" fill="none"/>
<rect x="481.41" y="303.7" width="6.6" height="142.6" fill="url(#p28)" stroke="#5c5c5c" stroke-width="0.9"/>
<path d="M484.7 311.3 V296.2 M482.9 296.2 H486.5 M482.9 311.3 H486.5" stroke="#555" stroke-width="0.7" fill="none"/>
<text x="477.4" y="458.4" font-family='"Liberation Serif", serif' font-size="8.2" font-weight="normal" fill="#222" text-anchor="middle" >S3</text>
<rect x="500.07" y="376.4" width="6.6" height="69.9" fill="#9b9b9b" stroke="#5c5c5c" stroke-width="0.9"/>
<path d="M503.4 378.4 V374.3 M501.6 374.3 H505.2 M501.6 378.4 H505.2" stroke="#555" stroke-width="0.7" fill="none"/>
<rect x="507.42" y="342.8" width="6.6" height="103.5" fill="url(#p7)" stroke="#5c5c5c" stroke-width="0.9"/>
<path d="M510.7 346.2 V339.4 M508.9 339.4 H512.5 M508.9 346.2 H512.5" stroke="#555" stroke-width="0.7" fill="none"/>
<rect x="514.77" y="319.5" width="6.6" height="126.8" fill="url(#p28)" stroke="#5c5c5c" stroke-width="0.9"/>
<path d="M518.1 327.0 V312.0 M516.3 312.0 H519.9 M516.3 327.0 H519.9" stroke="#555" stroke-width="0.7" fill="none"/>
<text x="510.7" y="458.4" font-family='"Liberation Serif", serif' font-size="8.2" font-weight="normal" fill="#222" text-anchor="middle" >S4</text>
<rect x="368.4" y="290.9" width="4.4" height="4.4" fill="#9b9b9b" stroke="#3a3a3a" stroke-width="1.1"/>
<text x="374.5" y="295.8" font-family='"Liberation Serif", serif' font-size="8.2" font-weight="normal" fill="#222" text-anchor="start" >3d</text>
<rect x="389.8" y="290.9" width="4.4" height="4.4" fill="url(#p7)" stroke="#3a3a3a" stroke-width="1.1"/>
<text x="396.4" y="295.8" font-family='"Liberation Serif", serif' font-size="8.2" font-weight="normal" fill="#222" text-anchor="start" >7d</text>
<rect x="411.6" y="290.9" width="4.4" height="4.4" fill="url(#p28)" stroke="#3a3a3a" stroke-width="1.1"/>
<text x="417.9" y="295.8" font-family='"Liberation Serif", serif' font-size="8.2" font-weight="normal" fill="#222" text-anchor="start" >28d</text>
</svg></body></html>
